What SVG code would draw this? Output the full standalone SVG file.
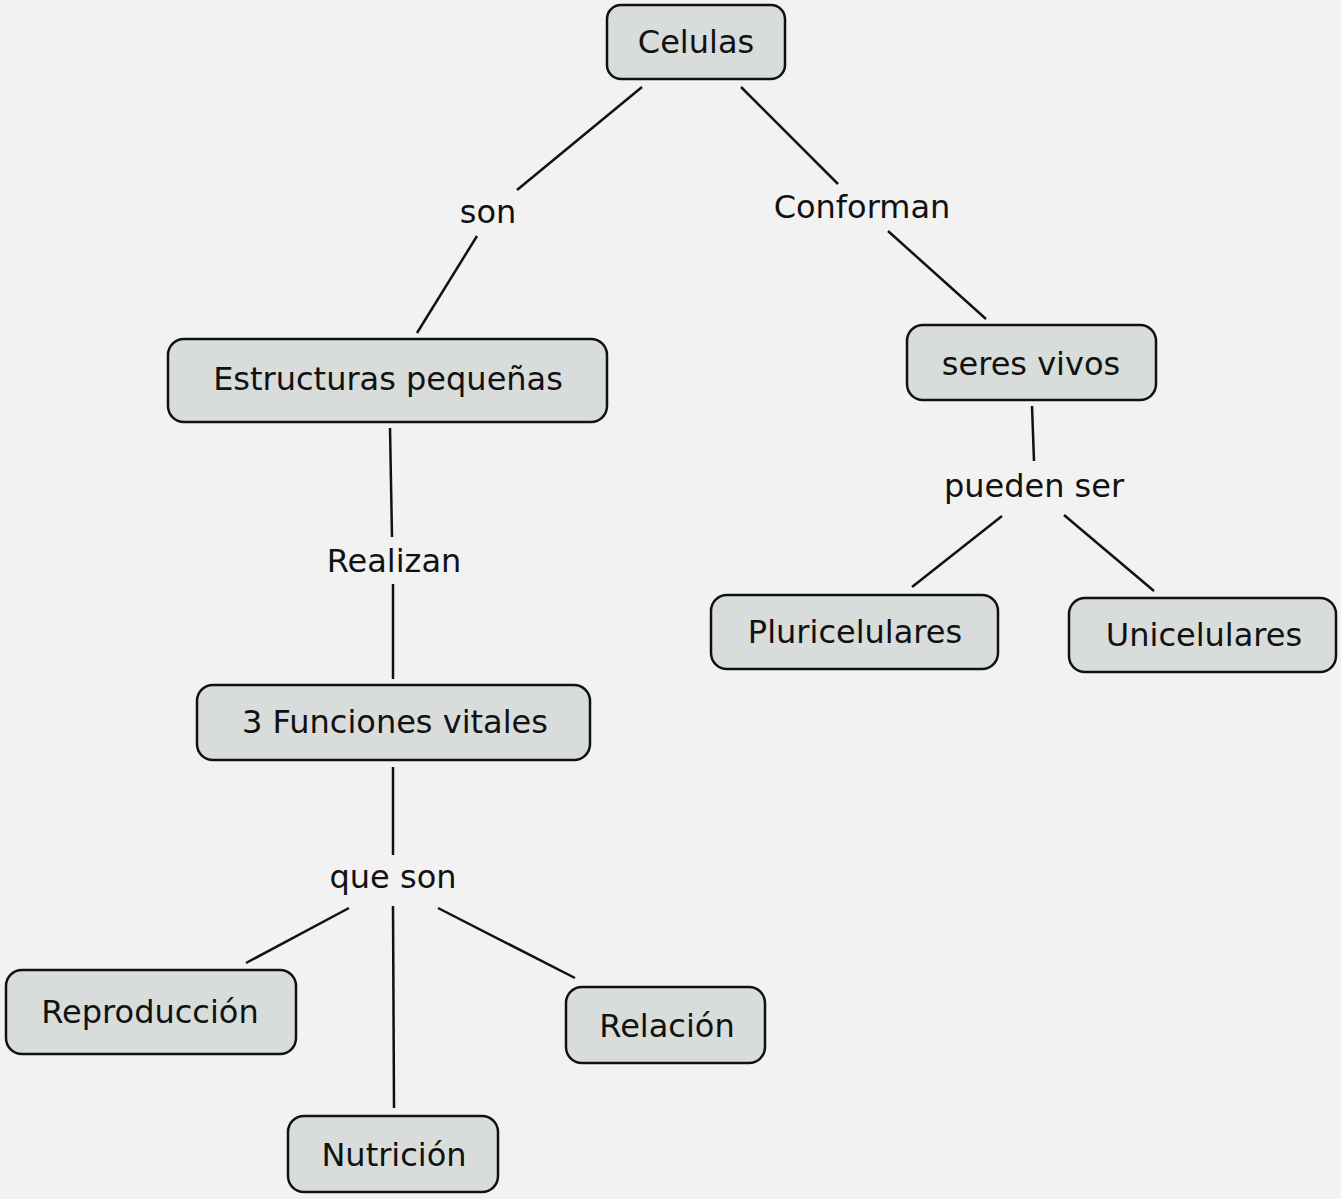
<svg xmlns="http://www.w3.org/2000/svg" width="1341" height="1199" viewBox="0 0 1341 1199">
<style>
.n rect{fill:#d8dcdb;stroke:#111;stroke-width:2.5}
text{font-family:"DejaVu Sans",Verdana,sans-serif;font-size:32px;fill:#111;text-anchor:middle;dominant-baseline:central}
#c line{stroke:#111;stroke-width:2.5}
</style>
<rect width="1341" height="1199" fill="#f2f2f2"/>
<g id="c">
<line x1="642" y1="87" x2="517" y2="190"/><line x1="477" y1="236" x2="417" y2="333"/>
<line x1="741" y1="87" x2="838" y2="184"/><line x1="888" y1="231" x2="986" y2="319"/>
<line x1="390" y1="428" x2="392" y2="537"/><line x1="393" y1="584" x2="393" y2="679"/>
<line x1="393" y1="767" x2="393" y2="855"/><line x1="349" y1="908" x2="246" y2="963"/>
<line x1="393" y1="906" x2="394" y2="1108"/><line x1="438" y1="908" x2="575" y2="978"/>
<line x1="1032" y1="406" x2="1034" y2="461"/><line x1="1002" y1="516" x2="912" y2="587"/>
<line x1="1064" y1="515" x2="1154" y2="591"/>
<text x="488" y="212">son</text><text x="862" y="207">Conforman</text>
<text x="394" y="561">Realizan</text><text x="393" y="877">que son</text>
<text x="1034" y="486">pueden ser</text>
</g>
<g id="celulas" class="n"><rect x="607" y="5" width="178" height="74" rx="14"/><text x="696" y="42">Celulas</text></g>
<g id="estructuras" class="n"><rect x="168" y="339" width="439" height="83" rx="16"/><text x="388" y="379">Estructuras pequeñas</text></g>
<g id="seres" class="n"><rect x="907" y="325" width="249" height="75" rx="16"/><text x="1031" y="364">seres vivos</text></g>
<g id="funciones" class="n"><rect x="197" y="685" width="393" height="75" rx="16"/><text x="395" y="722">3 Funciones vitales</text></g>
<g id="pluri" class="n"><rect x="711" y="595" width="287" height="74" rx="16"/><text x="855" y="632">Pluricelulares</text></g>
<g id="uni" class="n"><rect x="1069" y="598" width="267" height="74" rx="16"/><text x="1204" y="635">Unicelulares</text></g>
<g id="repro" class="n"><rect x="6" y="970" width="290" height="84" rx="16"/><text x="150" y="1012">Reproducción</text></g>
<g id="nutri" class="n"><rect x="288" y="1116" width="210" height="76" rx="16"/><text x="394" y="1155">Nutrición</text></g>
<g id="rel" class="n"><rect x="566" y="987" width="199" height="76" rx="16"/><text x="667" y="1026">Relación</text></g>
</svg>
